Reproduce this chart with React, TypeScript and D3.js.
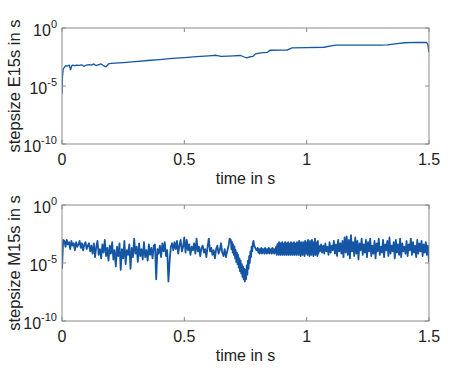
import React from "react";
import * as d3 from "d3";

// ---- data (log10 of step size) ----
const timeRange = [0, 1.5];
const xTicks = [0, 0.5, 1, 1.5];
const xTickLabels = ["0", "0.5", "1", "1.5"];
const yTickExps = [-10, -5, 0];

// E15s: time points and log10(stepsize)
const e15sTime = [
  0, 0.002, 0.005, 0.01, 0.015, 0.02, 0.03, 0.035, 0.04, 0.045, 0.05, 0.06, 0.07, 0.08, 0.09, 0.1, 0.11, 0.12,
  0.13, 0.14, 0.15, 0.16, 0.17, 0.18, 0.19, 0.2, 0.25, 0.3, 0.35, 0.4, 0.45, 0.5, 0.55, 0.6, 0.63, 0.65, 0.68,
  0.7, 0.73, 0.745, 0.755, 0.765, 0.78, 0.79, 0.82, 0.84, 0.85, 0.9, 0.92, 0.94, 1.0, 1.07, 1.1, 1.12, 1.2,
  1.3, 1.33, 1.37, 1.4, 1.45, 1.49, 1.495, 1.5,
];
const e15sLog = [
  -5.7, -4.2, -3.5, -3.4, -3.25, -3.3, -3.2, -3.6, -3.25, -3.2, -3.25, -3.2, -3.22, -3.18, -3.3, -3.2, -3.15, -3.2,
  -3.1, -3.25, -3.15, -3.1, -3.25, -3.35, -3.1, -3.05, -2.98, -2.9, -2.8, -2.72, -2.62, -2.55, -2.47, -2.4, -2.35,
  -2.45, -2.42, -2.4, -2.37, -2.5, -2.58, -2.5, -2.45, -2.24, -2.12, -2.1, -1.92, -1.9, -1.9, -1.72, -1.7, -1.66,
  -1.55, -1.48, -1.48, -1.48, -1.46, -1.35, -1.27, -1.24, -1.25, -1.4, -2.1,
];

// M15s: noisy, given per time segment
const m15sSegTimes = [
  [0, 0.12], [0.12, 0.38], [0.38, 0.46], [0.46, 0.69], [0.69, 0.8], [0.8, 0.88], [0.88, 1.05], [1.05, 1.5],
];
const m15sSegA = [
  -5.5, -3.0, -3.1, -3.6, -3.0, -3.4, -3.2, -3.8, -3.1, -3.5, -3.3, -3.9, -3.2, -3.6, -3.4, -3.1, -3.7, -3.3, -3.9,
  -3.4, -3.2, -3.8, -3.5, -3.3, -4.0,
];
const m15sSegB = [
  -3.5, -4.2, -3.3, -4.5, -3.6, -3.1, -4.3, -3.8, -4.6, -3.4, -4.1, -3.0, -4.4, -3.7, -4.8, -3.5, -4.2, -3.2, -4.7,
  -3.9, -5.3, -3.6, -4.4, -3.3, -5.6, -3.8, -4.6, -3.1, -5.1, -3.9, -4.3, -3.4, -5.5, -3.7, -4.5, -2.9, -4.2, -3.6,
  -4.9, -3.3, -4.4, -3.8, -4.7, -3.2, -4.5, -3.9, -4.8, -3.4, -4.3, -3.7, -4.6, -3.5,
];
const m15sSegC = [-3.4, -6.4, -3.8, -4.2, -3.5, -4.5, -3.3, -4.0, -3.2, -4.4, -3.9, -6.6, -4.8, -3.6, -3.3, -3.9];
const m15sSegD = [
  -3.2, -3.8, -3.1, -4.2, -3.5, -3.0, -4.0, -3.6, -2.8, -4.1, -3.0, -3.9, -3.4, -4.3, -3.6, -3.9, -3.3, -4.2, -2.9,
  -4.0, -3.6, -4.4, -3.7, -3.5, -4.1, -3.8, -4.5, -3.6, -2.9, -4.0, -3.7, -4.3, -3.9, -4.6, -3.8, -3.5, -4.2, -3.9,
  -3.3, -4.1, -4.4, -3.8, -4.5, -4.0, -3.6, -2.9,
];
const m15sSegE = [
  -3.0, -3.8, -3.2, -4.1, -3.4, -4.3, -3.6, -4.6, -3.9, -4.9, -4.1, -5.1, -4.3, -5.4, -4.6, -5.7, -4.8, -5.9, -5.1,
  -6.2, -5.3, -6.4, -5.5, -6.6, -5.6, -6.4, -5.2, -6.0, -4.8, -5.5, -4.4, -5.0, -4.0, -4.5, -3.6, -4.0, -3.3, -3.1,
  -3.4, -3.6, -3.7, -3.8, -3.9, -3.9,
];
const m15sSegF = [
  -3.7, -4.1, -3.8, -4.2, -3.8, -4.1, -3.7, -4.2, -3.8, -4.1, -3.8, -4.2, -3.7, -4.1, -3.8, -4.2, -3.8, -4.1, -3.7,
  -4.2, -3.8, -4.1, -3.8, -4.2, -3.7, -4.1, -3.8, -4.2, -3.8, -4.1, -3.6, -4.3,
];
const m15sSegG = [
  -3.4, -4.2, -3.3, -4.3, -3.2, -4.2, -3.3, -4.3, -3.3, -4.2, -3.2, -4.3, -3.4, -4.2, -3.3, -4.3, -3.2, -4.2, -3.3,
  -4.3, -3.3, -4.2, -3.2, -4.3, -3.4, -4.2, -3.3, -4.3, -3.2, -4.2, -3.3, -4.3, -3.3, -4.2, -3.2, -4.3, -3.4, -4.2,
  -3.3, -4.3, -3.2, -4.1, -3.3, -4.3, -3.1, -4.2, -3.3, -4.4, -3.2, -4.1, -3.4, -4.3, -3.2, -4.2, -3.3, -4.4, -3.1,
  -4.2, -3.3, -4.1, -3.2, -4.3, -3.0, -4.2, -3.3, -4.4, -3.1, -4.2, -3.4, -4.3, -3.0, -4.1, -3.2, -4.4, -3.3, -4.2,
  -2.9, -4.3, -3.2, -4.1, -3.3, -4.4, -3.1, -4.2,
];
const m15sSegH = [
  -3.5, -4.0, -3.4, -4.1, -3.5, -4.2, -3.3, -4.0, -3.6, -4.3, -3.2, -4.1, -3.5, -3.9, -3.1, -4.2, -3.4, -4.4, -3.0,
  -4.0, -3.3, -4.2, -3.1, -4.5, -2.8, -4.1, -2.7, -4.3, -3.0, -4.6, -2.6, -4.0, -3.2, -4.4, -2.8, -4.2, -3.1, -4.7,
  -3.3, -3.9, -2.9, -4.3, -3.4, -4.1, -3.0, -4.5, -3.2, -4.0, -2.9, -4.4, -3.5, -4.2, -3.1, -4.6, -3.3, -4.0, -2.9,
  -4.3, -3.6, -4.1, -3.0, -4.5, -3.4, -3.9, -3.1, -4.4, -2.8, -4.2, -3.5, -4.0, -3.2, -4.6, -3.0, -4.1, -3.4, -4.3,
  -2.9, -4.5, -3.3, -4.0, -3.6, -4.2, -3.1, -4.4, -3.4, -3.9, -2.9, -4.3, -3.2, -4.1, -3.5, -4.5, -3.0, -4.2, -3.3,
  -4.0, -3.1, -4.4, -3.4, -4.1, -3.2, -4.3, -3.5, -4.9,
];
const m15sSegments = [m15sSegA, m15sSegB, m15sSegC, m15sSegD, m15sSegE, m15sSegF, m15sSegG, m15sSegH];

// ---- layout ----
const W = 474;
const H = 373;
const plotLeft = 62;
const plotRight = 429;
const plotH = 116;
const lineColor = "#1456a3";
const axisColor = "#8a8a8a";
const textColor = "#222";
const font = "'Liberation Sans', Arial, Helvetica, sans-serif";

type Pt = [number, number];

const e15sPoints: Pt[] = e15sTime.map((t, i) => [t, Math.pow(10, e15sLog[i])]);

const m15sPoints: Pt[] = [];
m15sSegments.forEach((seg, si) => {
  const [t0, t1] = m15sSegTimes[si];
  const last = si === m15sSegments.length - 1;
  const n = last ? seg.length - 1 : seg.length;
  seg.forEach((v, k) => m15sPoints.push([t0 + ((t1 - t0) * k) / n, Math.pow(10, v)]));
});

const x = d3.scaleLinear().domain(timeRange).range([plotLeft, plotRight]);

function Panel({ top, points, ylabel, width, id }: { top: number; points: Pt[]; ylabel: string; width: number; id: string }) {
  const bottom = top + plotH;
  const y = d3.scaleLog().domain([1e-10, 1]).range([bottom, top]);
  const line = d3
    .line<Pt>()
    .x((d) => x(d[0]))
    .y((d) => y(d[1]));
  const tickLen = 4;

  return (
    <g>
      <defs>
        <clipPath id={id}>
          <rect x={plotLeft} y={top} width={plotRight - plotLeft} height={plotH} />
        </clipPath>
      </defs>
      <path d={line(points) ?? ""} fill="none" stroke={lineColor} strokeWidth={width} strokeLinejoin="round" clipPath={`url(#${id})`} />
      <rect x={plotLeft} y={top} width={plotRight - plotLeft} height={plotH} fill="none" stroke={axisColor} strokeWidth={1} />
      {xTicks.map((t, i) => (
        <g key={t}>
          <line x1={x(t)} x2={x(t)} y1={bottom} y2={bottom - tickLen} stroke={axisColor} />
          <line x1={x(t)} x2={x(t)} y1={top} y2={top + tickLen} stroke={axisColor} />
          <text x={x(t)} y={bottom + 21} textAnchor="middle" fontSize={16} fill={textColor} fontFamily={font}>
            {xTickLabels[i]}
          </text>
        </g>
      ))}
      {yTickExps.map((e) => {
        const yy = y(Math.pow(10, e));
        return (
          <g key={e}>
            <line x1={plotLeft} x2={plotLeft + tickLen} y1={yy} y2={yy} stroke={axisColor} />
            <line x1={plotRight} x2={plotRight - tickLen} y1={yy} y2={yy} stroke={axisColor} />
            <text x={plotLeft - 5} y={yy + 8} textAnchor="end" fontSize={16} fill={textColor} fontFamily={font}>
              10
              <tspan dy={-8} fontSize={11}>
                {e}
              </tspan>
            </text>
          </g>
        );
      })}
      <text x={(plotLeft + plotRight) / 2} y={bottom + 40} textAnchor="middle" fontSize={16} fill={textColor} fontFamily={font}>
        time in s
      </text>
      <text
        transform={`translate(20,${(top + bottom) / 2}) rotate(-90)`}
        textAnchor="middle"
        fontSize={16.5}
        fill={textColor}
        fontFamily={font}
      >
        {ylabel}
      </text>
    </g>
  );
}

export default function App() {
  return (
    <svg width={W} height={H} style={{ position: "absolute", left: 0, top: 0, background: "#fff" }}>
      <Panel top={28} points={e15sPoints} ylabel="stepsize E15s in s" width={1.3} id="clipTop" />
      <Panel top={205} points={m15sPoints} ylabel="stepsize M15s in s" width={1.8} id="clipBottom" />
    </svg>
  );
}
